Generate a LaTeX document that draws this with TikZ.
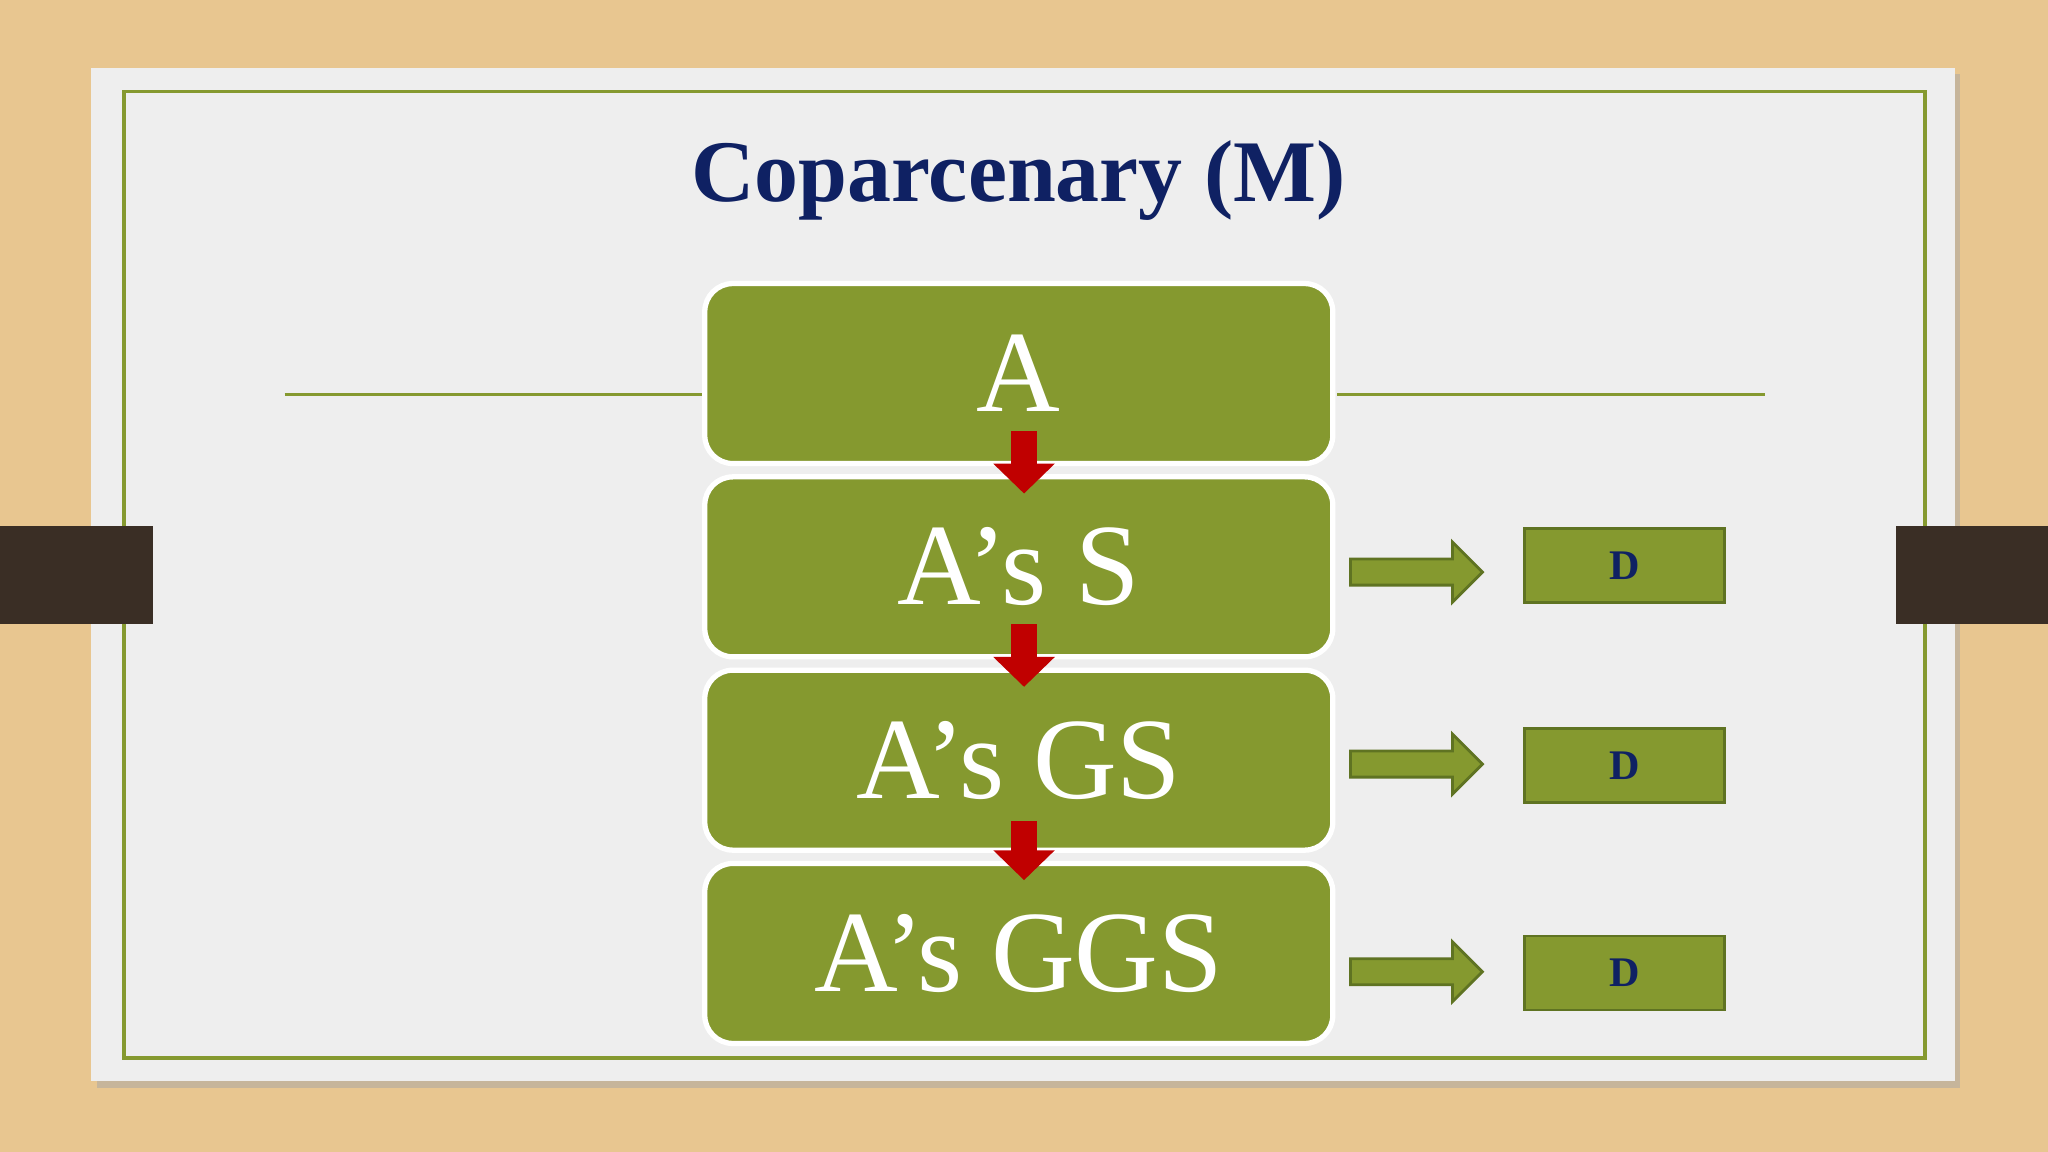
\documentclass[tikz,border=0pt]{standalone}
\usepackage{fontspec}
\setmainfont{Liberation Serif}
\usetikzlibrary{arrows.meta,shadows}
\definecolor{wood}{HTML}{E8C690}
\definecolor{slide}{HTML}{EEEEEE}
\definecolor{grn}{HTML}{85992F}
\definecolor{dgrn}{HTML}{5F7322}
\definecolor{navy}{HTML}{0F2163}
\definecolor{redar}{HTML}{C00000}
\definecolor{tab}{HTML}{3A2E25}
\tikzset{
  gbox/.style={draw=white,line width=1.5pt,fill=grn,rounded corners=8pt,minimum width=6.28cm,minimum height=1.8cm,text=white,font=\fontsize{33}{36}\selectfont},
  dbox/.style={draw=dgrn,line width=0.8pt,fill=grn,minimum width=2cm,minimum height=0.74cm,text=navy,font=\bfseries\fontsize{12}{14}\selectfont},
  downarr/.style={draw=redar,line width=7.5pt,-{Triangle[width=17pt,length=8.5pt]}},
  rarr/.style={fill=grn,draw=dgrn,line width=0.8pt}
}
\begin{document}
\begin{tikzpicture}[x=0.0130612cm,y=-0.0130612cm]
\useasboundingbox (0,0) rectangle (1568,882);
\fill[wood] (0,0) rectangle (1568,882);
\fill[black!35,opacity=0.5] (74,57) rectangle (1501,833);
\fill[slide] (70,52) rectangle (1497,828);
\draw[grn,line width=1pt] (95,70) rectangle (1474,810);
\fill[tab] (0,403) rectangle (117,478);
\fill[tab] (1452,403) rectangle (1568,478);
\node[text=navy,font=\bfseries\fontsize{25}{30}\selectfont] (title) at (780,138) {Coparcenary (M)};
\draw[grn,line width=1pt] (218,302) -- (538,302);
\draw[grn,line width=1pt] (1024,302) -- (1351,302);
\node[gbox] (a) at (780,286) {A};
\node[gbox] (s) at (780,434) {A’s S};
\node[gbox] (gs) at (780,582) {A’s GS};
\node[gbox] (ggs) at (780,730) {A’s GGS};
\draw[downarr] ([xshift=1.5pt,yshift=10pt]a.south) -- ([xshift=1.5pt,yshift=-5.5pt]s.north);
\draw[downarr] ([xshift=1.5pt,yshift=10pt]s.south) -- ([xshift=1.5pt,yshift=-5.5pt]gs.north);
\draw[downarr] ([xshift=1.5pt,yshift=9pt]gs.south) -- ([xshift=1.5pt,yshift=-5.5pt]ggs.north);
\node[dbox] (d1) at (1244,433) {D};
\node[dbox] (d2) at (1244,586) {D};
\node[dbox] (d3) at (1244,745) {D};
\foreach \yy in {438,585,744}{
\draw[rarr] (1034,\yy-10) -- (1112,\yy-10) -- (1112,\yy-23) -- (1135,\yy) -- (1112,\yy+23) -- (1112,\yy+10) -- (1034,\yy+10) -- cycle;}
\end{tikzpicture}
\end{document}
